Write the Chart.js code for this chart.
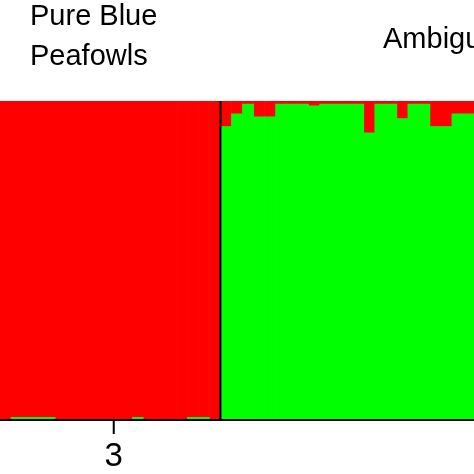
<!DOCTYPE html>
<html>
<head>
<meta charset="utf-8">
<script src="https://cdn.jsdelivr.net/npm/chart.js@4"></script>
<style>
  html, body { margin: 0; padding: 0; background: #fff; }
  #wrap { width: 474px; height: 474px; }
</style>
</head>
<body>
<div id="wrap"><canvas id="c"></canvas></div>
<script>
// Ancestry proportions per individual (red = blue peafowl cluster, green = other)
const individuals = Array.from({ length: 43 }, (_, i) => 'ind' + (i + 1));
const greenShare = [
  0, 0.008, 0.008, 0.008, 0.008, 0, 0, 0, 0, 0,
  0, 0, 0.008, 0, 0, 0, 0, 0.008, 0.008, 0,
  0.92, 0.96, 0.99, 0.95, 0.95, 0.99, 0.99, 0.99, 0.985, 0.99,
  0.99, 0.99, 0.99, 0.90, 0.99, 0.99, 0.945, 0.99, 0.99, 0.92,
  0.92, 0.96, 0.96
];
const redShare = greenShare.map(g => +(1 - g).toFixed(3));
const groupLabels = [['Pure Blue', 'Peafowls'], ['Ambiguous']];
const tickIndex = 10;
const tickLabel = '3';
const groupSplit = 20;

const overlay = {
  id: 'overlay',
  afterDatasetsDraw(chart) {
    const { ctx, chartArea: a, scales: { x } } = chart;
    ctx.save();
    ctx.strokeStyle = '#000';
    ctx.lineWidth = 2;
    const sx = (x.getPixelForValue(groupSplit - 1) + x.getPixelForValue(groupSplit)) / 2;
    ctx.beginPath();
    ctx.moveTo(sx, a.top); ctx.lineTo(sx, a.bottom);
    ctx.moveTo(a.left, a.bottom); ctx.lineTo(a.right, a.bottom);
    const tx = x.getPixelForValue(tickIndex) - 2;
    ctx.moveTo(tx, a.bottom); ctx.lineTo(tx, a.bottom + 14);
    ctx.stroke();
    ctx.fillStyle = '#000';
    ctx.font = '33px "Liberation Sans", Arial, sans-serif';
    ctx.textAlign = 'center';
    ctx.textBaseline = 'top';
    ctx.fillText(tickLabel, tx, a.bottom + 20);
    ctx.textAlign = 'left';
    ctx.font = '29px "Liberation Sans", Arial, sans-serif';
    ctx.fillText(groupLabels[0][0], 30, 2);
    ctx.fillText(groupLabels[0][1], 30, 42);
    ctx.fillText(groupLabels[1][0], 383, 25);
    ctx.restore();
  }
};

new Chart(document.getElementById('c'), {
  type: 'bar',
  data: {
    labels: individuals,
    datasets: [
      { label: 'green', data: greenShare, backgroundColor: '#00ff00', borderWidth: 0 },
      { label: 'red', data: redShare, backgroundColor: '#ff0000', borderWidth: 0 }
    ]
  },
  options: {
    responsive: true,
    maintainAspectRatio: false,
    animation: false,
    layout: { padding: { top: 101, bottom: 54, left: 0, right: 0 } },
    plugins: { legend: { display: false }, tooltip: { enabled: false } },
    datasets: { bar: { categoryPercentage: 1, barPercentage: 1 } },
    scales: {
      x: { stacked: true, display: false },
      y: { stacked: true, display: false, min: 0, max: 1 }
    }
  },
  plugins: [overlay]
});
</script>
</body>
</html>
